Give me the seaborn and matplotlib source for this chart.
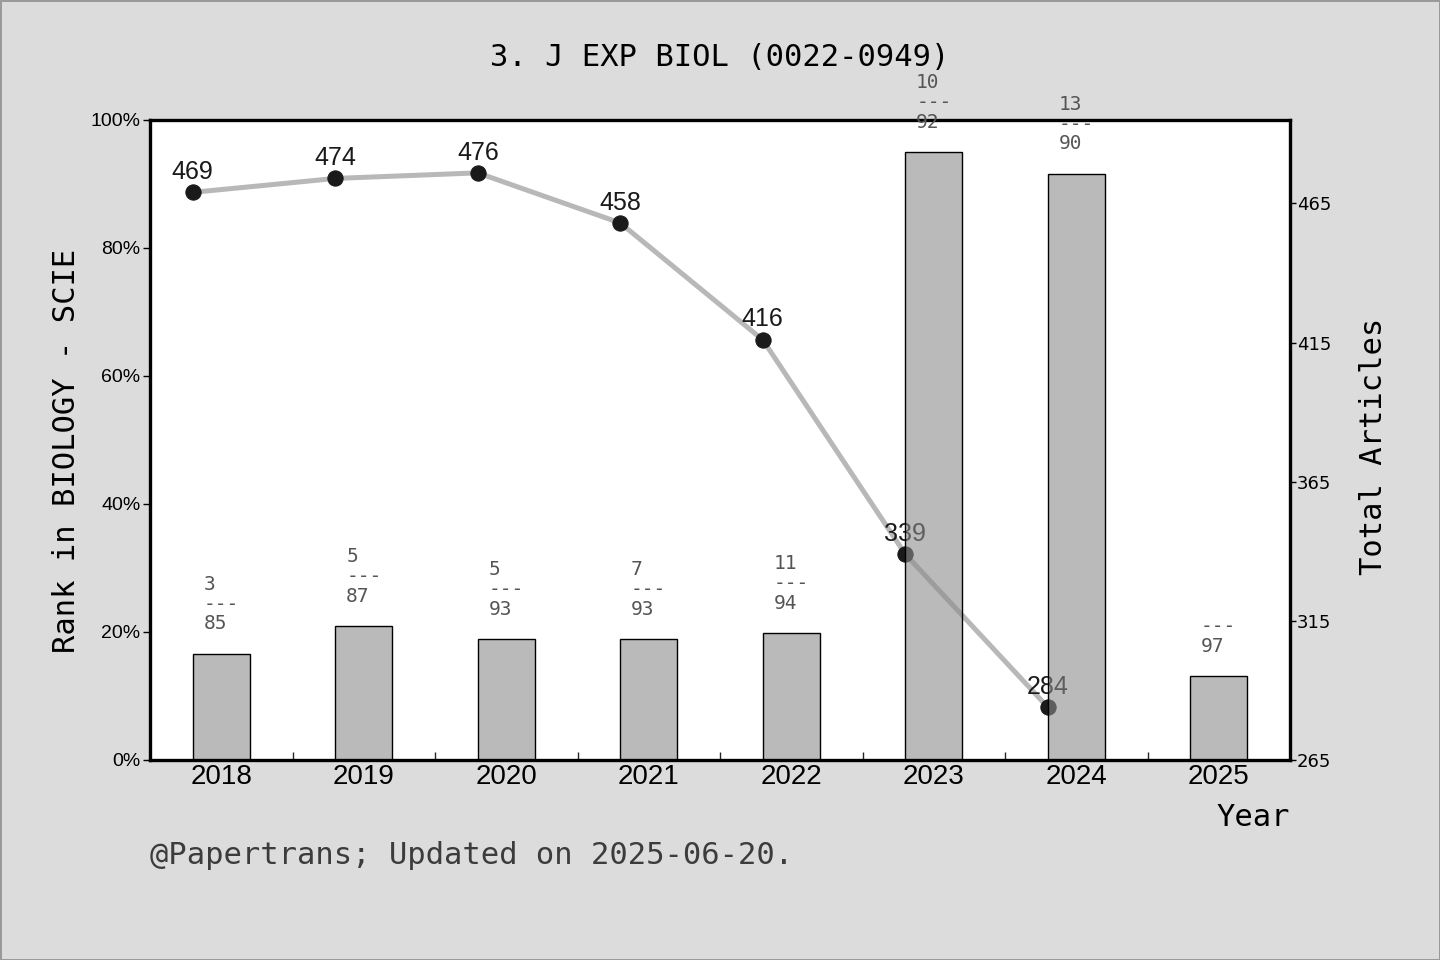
import numpy as np
import pandas as pd
import matplotlib
matplotlib.use("Agg")
import matplotlib.pyplot as plt
import seaborn as sns

# rank in category (bars) and total articles (line)
years = ["2018", "2019", "2020", "2021", "2022", "2023", "2024", "2025"]
rank_pct = [16.6, 20.9, 18.9, 18.9, 19.8, 95.0, 91.6, 13.1]
rank_num = ["3", "5", "5", "7", "11", "10", "13", ""]
rank_den = ["85", "87", "93", "93", "94", "92", "90", "97"]
articles = [469, 474, 476, 458, 416, 339, 284]

sns.set_theme(style="white")
plt.rcParams["font.family"] = ["DejaVu Sans Mono"]
mono = "DejaVu Sans Mono"
plain = ["Liberation Sans", "DejaVu Sans"]

fig = plt.figure(figsize=(14.4, 9.6), dpi=100, facecolor="#dcdcdc")
fig.patch.set_edgecolor("#9a9a9a")
fig.patch.set_linewidth(2)
rect = [150 / 1440, 200 / 960, 1140 / 1440, 640 / 960]

# line axes sits behind the bar axes
ax2 = fig.add_axes(rect, zorder=1)
ax = fig.add_axes(rect, zorder=2)
ax.patch.set_visible(False)
ax2.set_facecolor("white")

line_df = pd.DataFrame({"x": np.arange(len(articles)) - 0.2, "n": articles})
sns.lineplot(data=line_df, x="x", y="n", ax=ax2, color="#b8b8b8", linewidth=3.6,
             marker="o", markersize=11, markerfacecolor="#1a1a1a",
             markeredgecolor="#1a1a1a", zorder=3)
for x, n in zip(line_df["x"], line_df["n"]):
    ax2.annotate(str(n), (x, n), xytext=(0, 6), textcoords="offset points",
                 ha="center", va="bottom", fontsize=18, family=plain, color="#1a1a1a")
ax2.set_xlim(-0.5, 7.5)
ax2.set_ylim(265, 495)
ax2.xaxis.set_visible(False)
ax2.yaxis.tick_right()
ax2.set_yticks([265, 315, 365, 415, 465], ["265", "315", "365", "415", "465"],
               fontsize=13, family="DejaVu Sans")
ax2.tick_params(axis="y", right=True, direction="out", length=4, width=1, pad=1, colors="black")
ax2.set_ylabel("")
ax2.set_xlabel("")
for s in ax2.spines.values():
    s.set_visible(False)

bar_df = pd.DataFrame({"year": years, "pct": rank_pct})
sns.barplot(data=bar_df, x="year", y="pct", ax=ax, width=0.4, color="#8c8c8c",
            edgecolor="black", linewidth=1, saturation=1)
for p in ax.patches:
    p.set_facecolor((0.55, 0.55, 0.55, 0.6))

for i, (pct, num, den) in enumerate(zip(rank_pct, rank_num, rank_den)):
    ax.text(i, pct + 3.2, f"{num}\n---\n{den}", ha="center", va="bottom",
            multialignment="left", fontsize=14, family=mono, color="#555555",
            linespacing=1.05, clip_on=False)

ax.set_xlim(-0.5, 7.5)
ax.set_ylim(0, 100)
ax.set_xticks(range(len(years)), years, fontsize=20, family=plain)
ax.set_xticks(np.arange(len(years) - 1) + 0.5, minor=True)
ax.tick_params(axis="x", which="major", length=0, pad=3, colors="black")
ax.tick_params(axis="x", which="minor", bottom=True, direction="in", length=6, width=1)
ax.set_yticks([0, 20, 40, 60, 80, 100], ["0%", "20%", "40%", "60%", "80%", "100%"],
              fontsize=14, family=plain)
ax.tick_params(axis="y", left=True, direction="out", length=5, width=1, pad=2, colors="black")
ax.set_xlabel("")
ax.set_ylabel("")
for s in ax.spines.values():
    s.set_visible(True)
    s.set_color("black")
    s.set_linewidth(2.4)

fig.text(0.5, 1 - 57 / 960, "3. J EXP BIOL (0022-0949)", ha="center", va="center",
         fontsize=22, family=mono, color="black")
fig.text(67 / 1440, 1 - 451 / 960, "Rank in BIOLOGY - SCIE", rotation=90,
         ha="center", va="center", fontsize=22, family=mono, color="black")
fig.text(1373 / 1440, 1 - 446 / 960, "Total Articles", rotation=90,
         ha="center", va="center", fontsize=22, family=mono, color="black")
fig.text(1290 / 1440, 1 - 817 / 960, "Year", ha="right", va="center",
         fontsize=22, family=mono, color="black")
fig.text(150 / 1440, 1 - 855 / 960, "@Papertrans; Updated on 2025-06-20.",
         ha="left", va="center", fontsize=22, family=mono, color="#3c3c3c")

fig.savefig("out.png", dpi=100, facecolor=fig.get_facecolor(), edgecolor=fig.patch.get_edgecolor())
